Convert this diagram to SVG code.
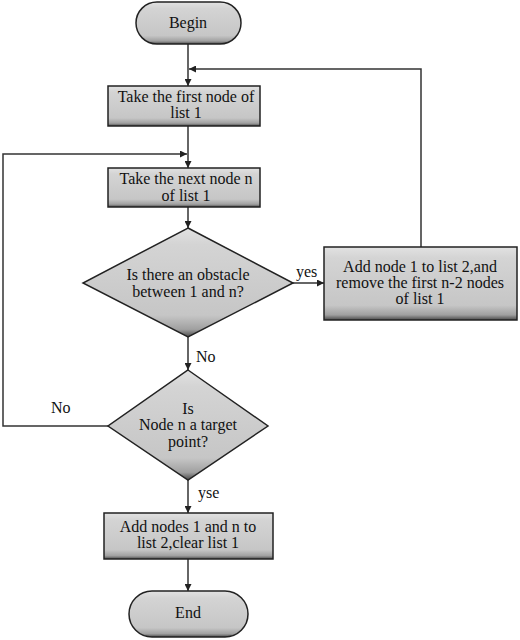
<svg xmlns="http://www.w3.org/2000/svg" width="520" height="640" viewBox="0 0 520 640">
<style>
.shape{fill:url(#g);stroke:#222;stroke-width:1.5}
.t{font-family:"Liberation Serif","Times New Roman",serif;font-size:16px;fill:#111;text-anchor:middle}
.lbl{font-family:"Liberation Serif","Times New Roman",serif;font-size:16px;fill:#111}
.c{fill:none;stroke:#333;stroke-width:1.5}
</style>
<defs>
<linearGradient id="g" x1="0" y1="0" x2="0" y2="1">
<stop offset="0" stop-color="#e2e2e2"/>
<stop offset="0.15" stop-color="#d4d4d4"/>
<stop offset="0.8" stop-color="#c6c6c6"/>
<stop offset="0.93" stop-color="#a0a0a0"/>
<stop offset="1" stop-color="#4a4a4a"/>
</linearGradient>
<marker id="a" viewBox="0 0 10 10" refX="10" refY="5" markerWidth="7" markerHeight="7" orient="auto" markerUnits="userSpaceOnUse">
<path d="M0,0 L10,5 L0,10 Z" fill="#222"/>
</marker>
</defs>
<rect width="520" height="640" fill="#fff"/>
<g id="connectors">
<path class="c" d="M188,44 V86" marker-end="url(#a)"/>
<path class="c" d="M421,247 V69 H189" marker-end="url(#a)"/>
<path class="c" d="M188,126 V168" marker-end="url(#a)"/>
<path class="c" d="M108,426 H3 V154 H187" marker-end="url(#a)"/>
<path class="c" d="M188,207 V228" marker-end="url(#a)"/>
<path class="c" d="M293,283 H324" marker-end="url(#a)"/>
<path class="c" d="M188,337 V370" marker-end="url(#a)"/>
<path class="c" d="M188,480 V513" marker-end="url(#a)"/>
<path class="c" d="M188,559 V591" marker-end="url(#a)"/>
<text class="lbl" x="296" y="277">yes</text>
<text class="lbl" x="196" y="362">No</text>
<text class="lbl" x="51" y="413">No</text>
<text class="lbl" x="198" y="498">yse</text>
</g>
<g id="begin">
<rect class="shape" x="136" y="2" width="105" height="42" rx="21"/>
<text class="t" x="188" y="28">Begin</text>
</g>
<g id="take-first">
<rect class="shape" x="108" y="86" width="152" height="40"/>
<text class="t" x="186" y="102">Take the first node of</text>
<text class="t" x="186" y="118">list 1</text>
</g>
<g id="take-next">
<rect class="shape" x="108" y="168" width="152" height="39"/>
<text class="t" x="186" y="184">Take the next node n</text>
<text class="t" x="186" y="201">of list 1</text>
</g>
<g id="obstacle">
<polygon class="shape" points="188,228 293,283 188,337 83,283"/>
<text class="t" x="188" y="280">Is there an obstacle</text>
<text class="t" x="188" y="297">between 1 and n?</text>
</g>
<g id="add-node">
<rect class="shape" x="324" y="247" width="193" height="73"/>
<text class="t" x="420" y="272">Add node 1 to list 2,and</text>
<text class="t" x="420" y="288">remove the first n-2 nodes</text>
<text class="t" x="420" y="304">of list 1</text>
</g>
<g id="target">
<polygon class="shape" points="188,370 268,426 188,480 108,426"/>
<text class="t" x="188" y="414">Is</text>
<text class="t" x="188" y="430">Node n a target</text>
<text class="t" x="188" y="447">point?</text>
</g>
<g id="add-nodes">
<rect class="shape" x="104" y="513" width="169" height="46"/>
<text class="t" x="188" y="532">Add nodes 1 and n to</text>
<text class="t" x="188" y="548">list 2,clear list 1</text>
</g>
<g id="end">
<rect class="shape" x="129" y="591" width="119" height="46" rx="23"/>
<text class="t" x="188" y="618">End</text>
</g>
</svg>
